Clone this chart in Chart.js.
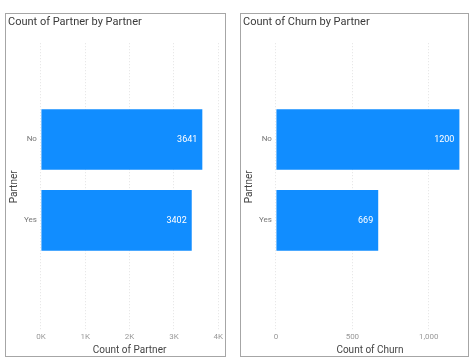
<!DOCTYPE html>
<html>
<head>
<meta charset="utf-8">
<script src="https://cdn.jsdelivr.net/npm/chart.js@4/dist/chart.umd.min.js"></script>
<style>
body { margin: 0; background: #fff; }
.panel { position: absolute; top: 13px; height: 342px; border: 1px solid #a6a6a6; background: #fff; }
#p1 { left: 5px; width: 219px; }
#p2 { left: 240px; width: 227px; }
</style>
</head>
<body>
<div class="panel" id="p1"><canvas id="my"></canvas></div>
<div class="panel" id="p2"><canvas id="my1"></canvas></div>
<script>
var partners = ["No", "Yes"];
var partnerCounts = [3641, 3402];
var churnCounts = [1200, 669];
var partnerTicks = [0, 1000, 2000, 3000, 4000];
var churnTicks = [0, 500, 1000];

var barBlue = "#118DFF";
var fontName = "Roboto, 'Noto Sans', sans-serif";

// white value labels at the end of each bar
var valueLabels = {
    id: 'valueLabels',
    afterDatasetsDraw: function (chart) {
        var c = chart.ctx;
        var meta = chart.getDatasetMeta(0);
        c.save();
        c.fillStyle = "#fff";
        c.font = "9px " + fontName;
        c.textAlign = "right";
        c.textBaseline = "middle";
        meta.data.forEach(function (bar, i) {
            c.fillText(chart.data.datasets[0].data[i].x, bar.x - 5, bar.y);
        });
        c.restore();
    }
};

function makeChart(id, title, values, axisTitle, xMax, xTicks, tickFmt, padRight) {
    var ctx = document.getElementById(id).getContext('2d');
    return new Chart(ctx, {
        type: 'bar',
        plugins: [valueLabels],
        data: {
            datasets: [{
                data: values.map(function (v, i) { return {x: v, y: i}; }),
                backgroundColor: barBlue,
                categoryPercentage: 1,
                barPercentage: 0.75
            }]
        },
        options: {
            indexAxis: 'y',
            responsive: true,
            maintainAspectRatio: false,
            animation: false,
            layout: {padding: {left: 2, right: padRight, bottom: 0}},
            plugins: {
                legend: {display: false},
                tooltip: {enabled: false},
                title: {
                    display: true,
                    text: title,
                    align: 'start',
                    color: "#3a3a3a",
                    font: {family: fontName, size: 11, weight: 'normal'},
                    padding: {top: 2, bottom: 14}
                }
            },
            scales: {
                x: {
                    type: 'linear',
                    min: 0,
                    max: xMax,
                    grid: {color: "#e3e3e3", drawTicks: false},
                    border: {display: false, dash: [1, 2]},
                    afterBuildTicks: function (s) {
                        s.ticks = xTicks.map(function (v) { return {value: v}; });
                    },
                    ticks: {
                        color: "#999",
                        font: {family: fontName, size: 8},
                        padding: 2,
                        callback: tickFmt
                    },
                    title: {
                        display: true,
                        text: axisTitle,
                        color: "#444",
                        font: {family: fontName, size: 10},
                        padding: {top: 0, bottom: 0}
                    }
                },
                y: {
                    type: 'linear',
                    reverse: true,
                    offset: false,
                    min: -1.19,
                    max: 2.36,
                    grid: {display: false, drawTicks: false},
                    border: {display: false},
                    afterBuildTicks: function (s) {
                        s.ticks = partners.map(function (p, i) { return {value: i}; });
                    },
                    ticks: {
                        color: "#777",
                        font: {family: fontName, size: 8},
                        padding: 4,
                        callback: function (v) { return partners[v]; }
                    },
                    title: {
                        display: true,
                        text: "Partner",
                        color: "#444",
                        font: {family: fontName, size: 10},
                        padding: 0
                    }
                }
            }
        }
    });
}

var myChart = makeChart("my", "Count of Partner by Partner", partnerCounts, "Count of Partner", 4000, partnerTicks,
    function (v) { return (v / 1000) + "K"; }, 0);
var myChart1 = makeChart("my1", "Count of Churn by Partner", churnCounts, "Count of Churn", 1230, churnTicks,
    function (v) { return v.toLocaleString("en-US"); }, 4);
</script>
</body>
</html>
